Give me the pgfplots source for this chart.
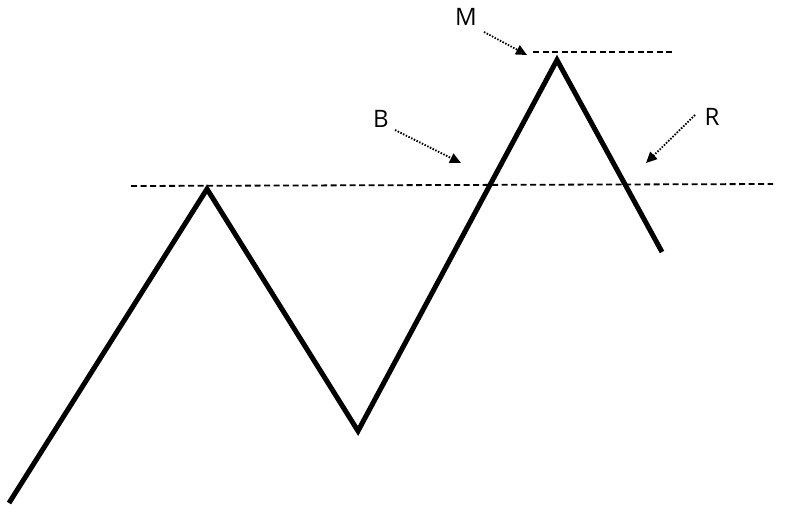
\documentclass[border=0pt]{standalone}
\usepackage{pgfplots}
\pgfplotsset{compat=1.18}
\usetikzlibrary{arrows.meta}
\usepackage{fontspec}
\setmainfont{Open Sans}
\begin{document}
\begin{tikzpicture}
\begin{axis}[
  width=788bp, height=518bp, scale only axis,
  xmin=0, xmax=788, ymin=0, ymax=518,
  y dir=reverse,
  axis line style={draw=none},
  ticks=none,
  clip=false,
]
% price path
\addplot[black, line width=5bp, line join=miter, line cap=butt, mark=none]
  coordinates {(9,503) (207,189) (358,431) (557,60) (662,252)};
% resistance level
\addplot[black, line width=1.8bp, dash pattern=on 6bp off 3.5bp, mark=none]
  coordinates {(131,186) (773,184)};
% high level
\addplot[black, line width=1.8bp, dash pattern=on 6bp off 3.5bp, mark=none]
  coordinates {(533,52) (674,52)};
% pointers
\addplot[black, line width=1.8bp, dash pattern=on 1.5bp off 1.5bp, mark=none,
  -{Triangle[length=11bp,width=10bp,sep=0pt]}]
  coordinates {(484,32) (527,55)};
\addplot[black, line width=1.8bp, dash pattern=on 1.5bp off 1.5bp, mark=none,
  -{Triangle[length=11bp,width=10bp,sep=0pt]}]
  coordinates {(395,130) (461,163)};
\addplot[black, line width=1.8bp, dash pattern=on 1.5bp off 1.5bp, mark=none,
  -{Triangle[length=11bp,width=10bp,sep=0pt]}]
  coordinates {(695,115) (646,163)};
\node[font=\fontsize{24bp}{28bp}\selectfont] at (axis cs:466,17) {M};
\node[font=\fontsize{24bp}{28bp}\selectfont] at (axis cs:381,119) {B};
\node[font=\fontsize{24bp}{28bp}\selectfont] at (axis cs:712,117) {R};
\end{axis}
\end{tikzpicture}
\end{document}
